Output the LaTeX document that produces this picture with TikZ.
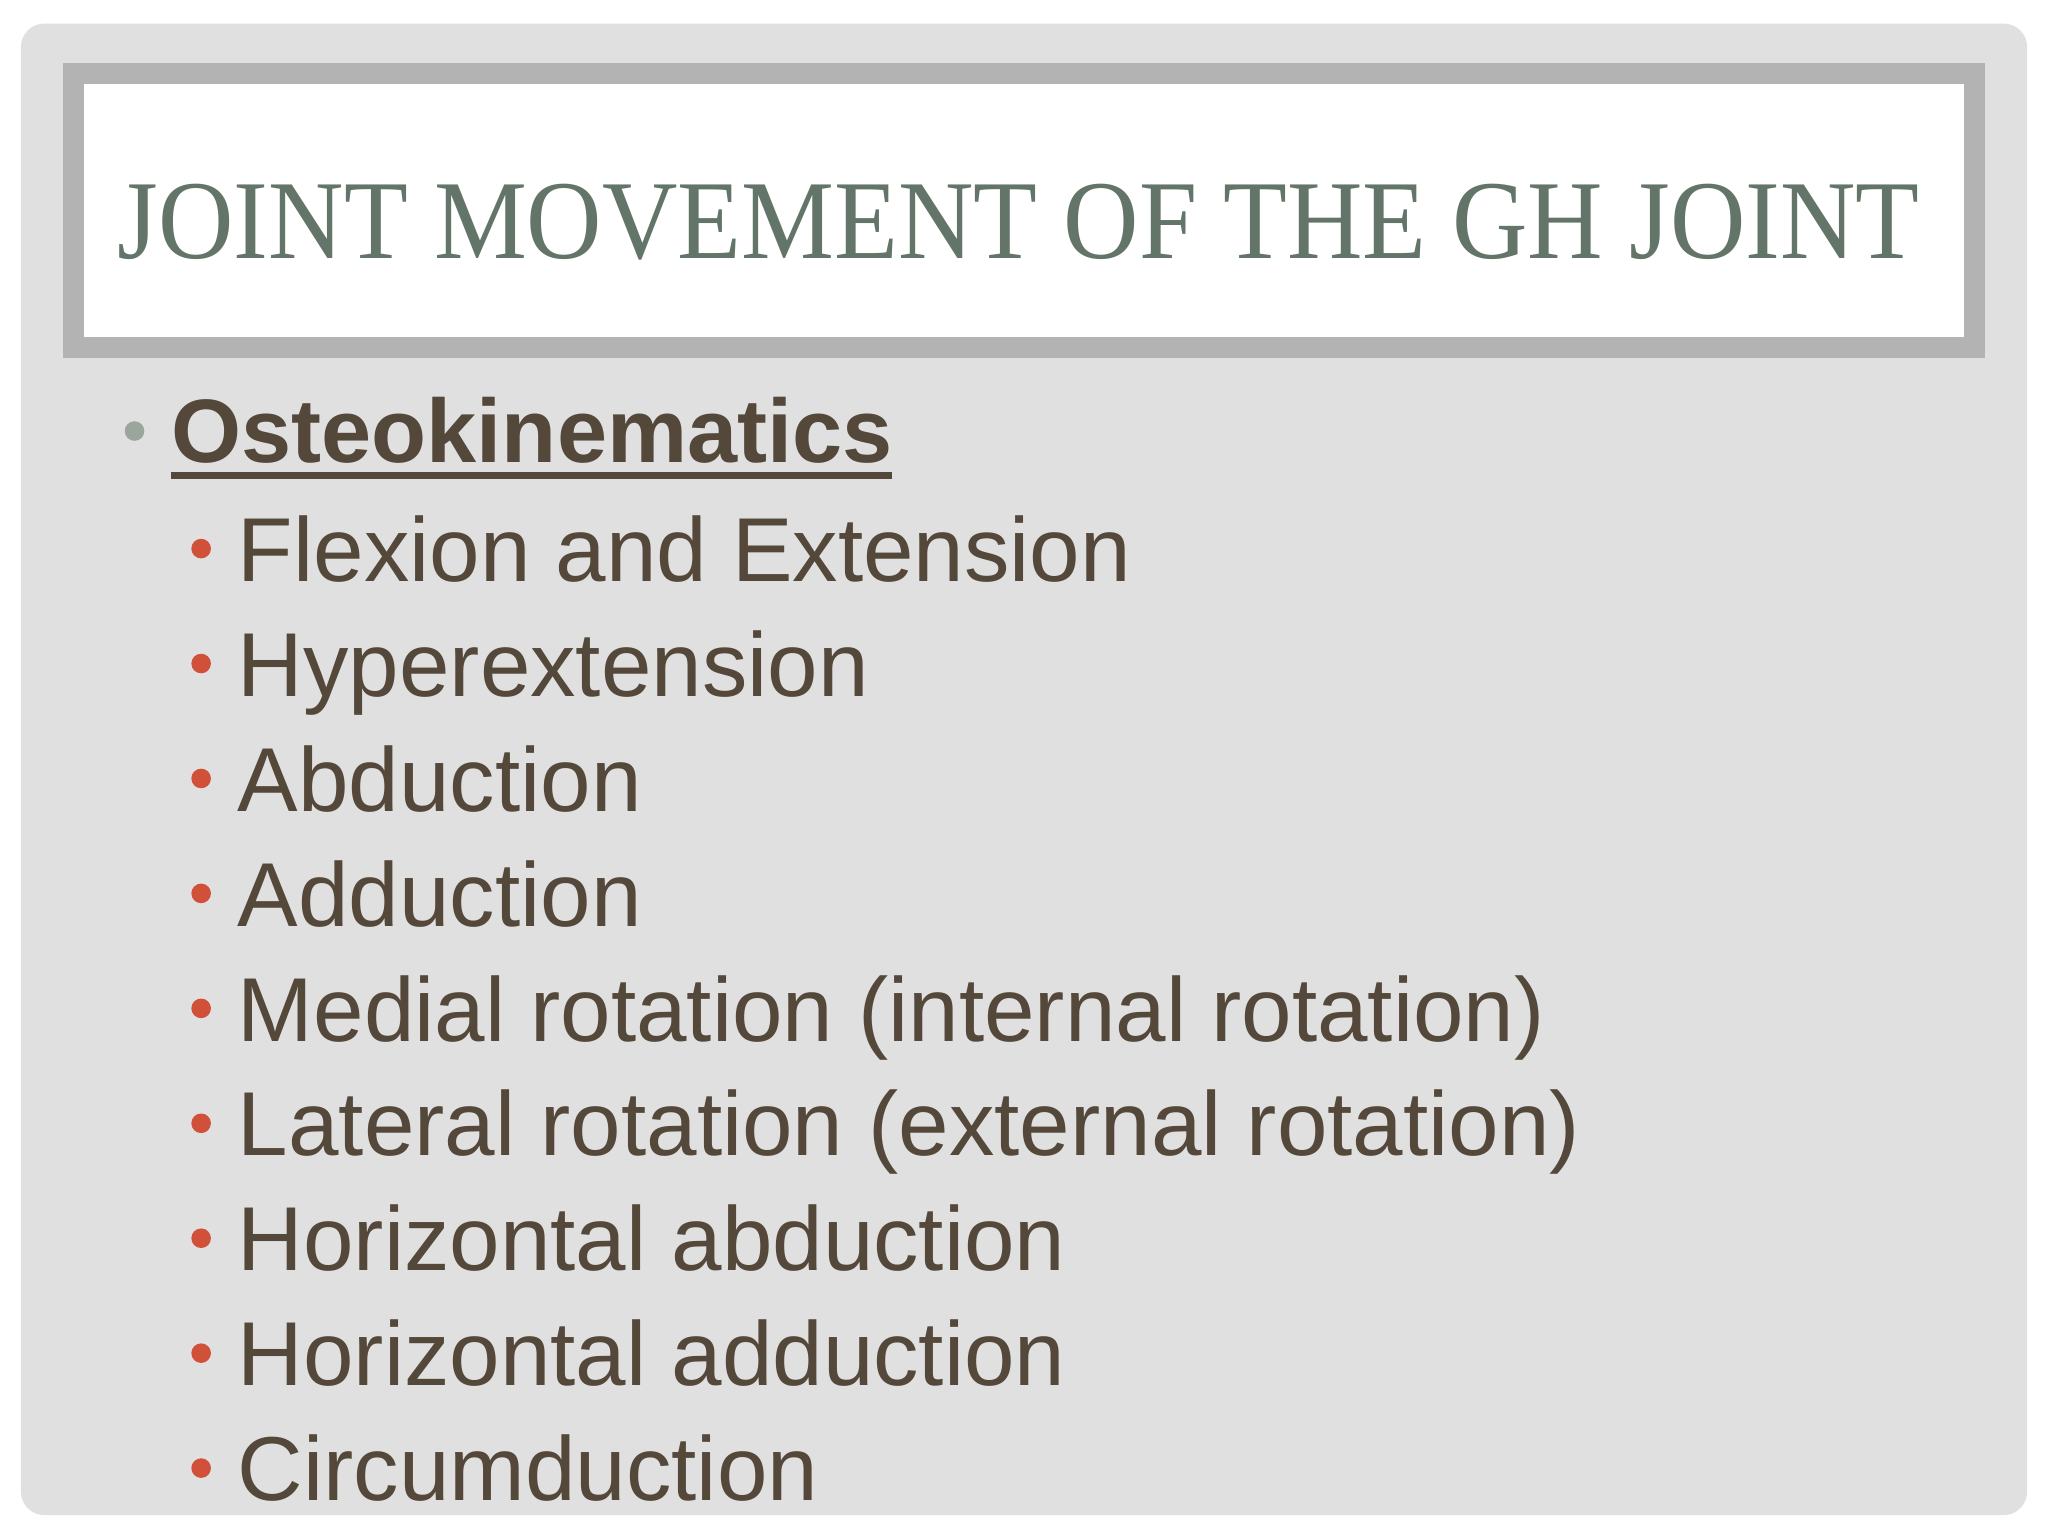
\documentclass[tikz,border=0pt]{standalone}
\usepackage{fontspec}
\setmainfont{Liberation Sans}
\newfontfamily\titlefont{Liberation Serif}
\definecolor{bg}{HTML}{E1E0E1}
\definecolor{frame}{HTML}{B3B3B3}
\definecolor{ttl}{HTML}{637568}
\definecolor{txt}{HTML}{54483A}
\definecolor{bul}{HTML}{D0503A}
\definecolor{gbul}{HTML}{9AA69C}
\begin{document}
\begin{tikzpicture}[x=1pt,y=-1pt,
  item/.style={anchor=base west,inner sep=0,text=txt,font=\fontsize{69.5}{80}\selectfont},
  dot/.style={circle,fill=bul,inner sep=0,minimum size=15}]
\useasboundingbox (0,0) rectangle (1568,1176);
\fill[white] (0,0) rectangle (1568,1176);
\fill[bg,rounded corners=18] (16,18) rectangle (1552,1160);
\fill[frame] (48,48) rectangle (1520,274);
\fill[white] (64,64) rectangle (1504,258);
\node[anchor=base,inner sep=0,text=ttl] (title) at (780,198)
  {\scalebox{0.93}[1]{\titlefont\fontsize{86}{90}\selectfont JOINT MOVEMENT OF THE GH JOINT}};
\node[circle,fill=gbul,inner sep=0,minimum size=15] (b0) at (103,330) {};
\node[item,font=\bfseries\fontsize{69}{72}\selectfont] (h) at (131,354)
  {Osteokinematics};
\draw[txt,line width=5] (h.base west)++(0,10) -- ++(552,0);
\foreach \t [count=\i] in {Flexion and Extension,Hyperextension,Abduction,Adduction,
  Medial rotation (internal rotation),Lateral rotation (external rotation),
  Horizontal abduction,Horizontal adduction,Circumduction}{
  \node[dot] (d\i) at (154,{445+88*(\i-1)-25}) {};
  \node[item] (t\i) at (182,{445+88*(\i-1)}) {\t};
}
\end{tikzpicture}
\end{document}
